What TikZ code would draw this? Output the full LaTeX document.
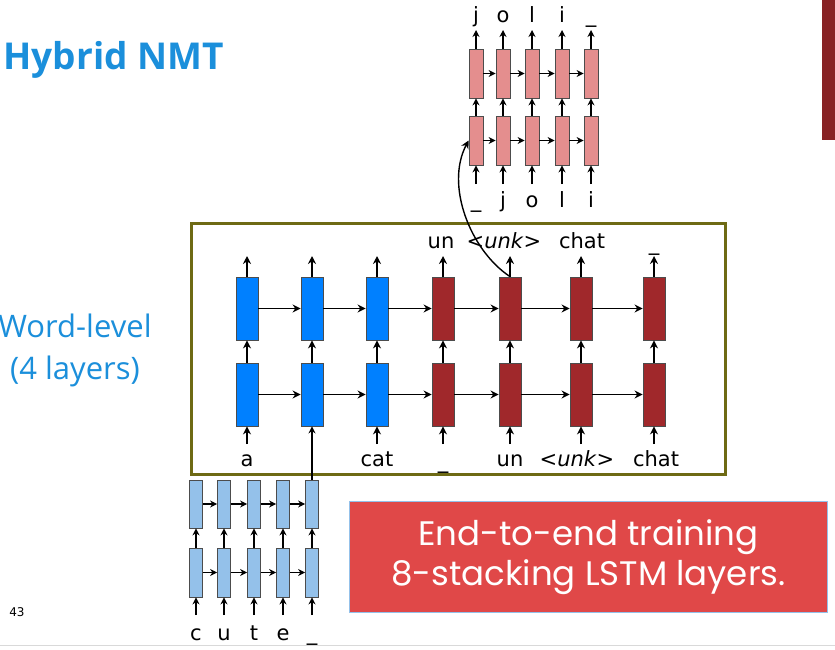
\documentclass[tikz,border=0pt]{standalone}
\usepackage{fontspec}
\setmainfont{DejaVu Sans}
\newfontfamily\titlef{Open Sans}
\newfontfamily\handf{Poppins}
\usetikzlibrary{arrows.meta}
\definecolor{wblue}{HTML}{0080FF}
\definecolor{wred}{HTML}{A0282B}
\definecolor{cblue}{HTML}{94C1EA}
\definecolor{cpink}{HTML}{E48E8E}
\definecolor{tblue}{HTML}{1B8FDB}
\definecolor{olive}{HTML}{6E6A14}
\definecolor{boxred}{HTML}{E04848}
\begin{document}
\begin{tikzpicture}[x=1pt,y=-1pt,
  cell/.style={draw=black!70,line width=0.8pt,minimum width=#1,inner sep=0pt},
  arr/.style={-{Stealth[length=8pt,width=8pt]},line width=1.4pt},
  sarr/.style={-{Stealth[length=7pt,width=7pt]},line width=1.3pt},
  lab/.style={font=\fontsize{21}{21}\selectfont,inner sep=0pt,anchor=base}]
\useasboundingbox (0,0) rectangle (835,649);
\fill[white] (0,0) rectangle (835,649);
\fill[wred!85!black] (822,0) rectangle (835,140);
\draw[black!15] (0,645) -- (835,645);
\node[anchor=west,font=\titlef\bfseries\fontsize{37}{37}\selectfont,text=tblue] (title) at (0,60) {Hybrid NMT};
\node[font=\titlef\fontsize{31}{42}\selectfont,text=tblue,align=center] (wl) at (75,350) {Word-level\\(4 layers)};
\node[font=\fontsize{12}{12}\selectfont] (pg) at (17,612) {43};
% word frame
\node[draw=olive,line width=2.5pt,minimum width=534,minimum height=251,anchor=north west] (frame) at (190,222) {};
% word-level cells
\foreach \i/\x/\c in {1/247/wblue,2/312/wblue,3/377/wblue,4/443/wred,5/510/wred,6/581/wred,7/654/wred}{
  \node[cell=22,fill=\c,minimum height=63] (t\i) at (\x,308.5) {};
  \node[cell=22,fill=\c,minimum height=63] (b\i) at (\x,394.5) {};
  \draw[arr] (b\i.north) -- (t\i.south);
  \coordinate (ti\i) at (\x,256);
  \draw[arr] (t\i.north) -- (ti\i);
}
\foreach \i/\x in {1/247,3/377,4/443,5/510,6/581,7/654}{
  \coordinate (bi\i) at (\x,444);
  \draw[arr] (bi\i) -- (b\i.south);
}
\foreach \i/\j in {1/2,2/3,3/4,4/5,5/6,6/7}{
  \draw[arr] (t\i.east) -- (t\j.west);
  \draw[arr] (b\i.east) -- (b\j.west);
}
\node[lab] (la) at (247,466) {a};
\node[lab] (lcat) at (377,466) {cat};
\node[lab] (lsp) at (443,468) {\_};
\node[lab] (lun) at (510,466) {un};
\node[lab] (lunk) at (577,466) {<\textit{unk}>};
\node[lab] (lchat) at (656,466) {chat};
\node[lab] (oun) at (441,248) {un};
\node[lab] (ounk) at (504,248) {<\textit{unk}>};
\node[lab] (ochat) at (582,248) {chat};
\node[lab] (osp) at (654,250) {\_};
% char encoder
\foreach \i/\x/\l in {1/196/c,2/224/u,3/254/t,4/283/e,5/312/\_}{
  \node[cell=13,fill=cblue,minimum height=48] (et\i) at (\x,504) {};
  \node[cell=13,fill=cblue,minimum height=49] (eb\i) at (\x,572.5) {};
  \draw[sarr] (eb\i.north) -- (et\i.south);
  \coordinate (ei\i) at (\x,615);
  \draw[sarr] (ei\i) -- (eb\i.south);
  \node[lab] (el\i) at (\x,640) {\l};
}
\foreach \i/\j in {1/2,2/3,3/4,4/5}{
  \draw[sarr] (et\i.east) -- (et\j.west);
  \draw[sarr] (eb\i.east) -- (eb\j.west);
}
\draw[sarr] (et5.north) -- (b2.south);
% char decoder
\foreach \i/\x/\u/\l in {1/476/j/\_,2/503/o/j,3/532/l/o,4/562/i/l,5/591/\_/i}{
  \node[cell=14,fill=cpink,minimum height=49] (dt\i) at (\x,73.5) {};
  \node[cell=14,fill=cpink,minimum height=49] (db\i) at (\x,140.5) {};
  \draw[sarr] (db\i.north) -- (dt\i.south);
  \coordinate (di\i) at (\x,184);
  \draw[sarr] (di\i) -- (db\i.south);
  \coordinate (do\i) at (\x,30);
  \draw[sarr] (dt\i.north) -- (do\i);
  \node[lab] (du\i) at (\x,22) {\u};
  \node[lab] (dl\i) at (\x,207) {\l};
}
\foreach \i/\j in {1/2,2/3,3/4,4/5}{
  \draw[sarr] (dt\i.east) -- (dt\j.west);
  \draw[sarr] (db\i.east) -- (db\j.west);
}
\draw[arr] (t5.north) .. controls (470,250) and (445,185) .. (db1.west);
% red box
\node[draw=cblue,fill=boxred,line width=1pt,minimum width=478,minimum height=111,anchor=north west] (rb) at (349,501) {};
\node[text=white,font=\handf\fontsize{34}{40}\selectfont,align=center] (rt) at (rb.center) {End-to-end training\\8-stacking LSTM layers.};
\end{tikzpicture}
\end{document}
